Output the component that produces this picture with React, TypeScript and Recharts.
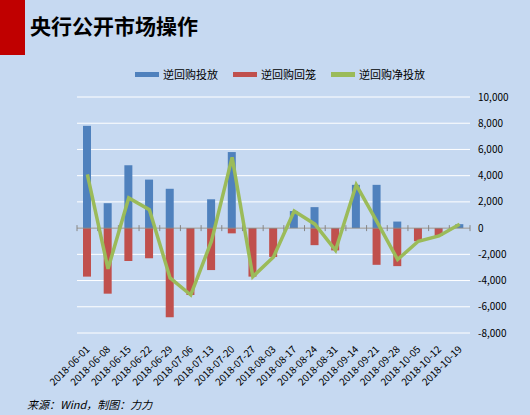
import React from 'react';
import {
  ComposedChart,
  Bar,
  Line,
  XAxis,
  YAxis,
  CartesianGrid,
  ReferenceLine,
} from 'recharts';

const dates = [
  '2018-06-01', '2018-06-08', '2018-06-15', '2018-06-22', '2018-06-29',
  '2018-07-06', '2018-07-13', '2018-07-20', '2018-07-27', '2018-08-03',
  '2018-08-17', '2018-08-24', '2018-08-31', '2018-09-14', '2018-09-21',
  '2018-09-28', '2018-10-05', '2018-10-12', '2018-10-19',
];
const injection = [7800, 1900, 4800, 3700, 3000, 0, 2200, 5800, 0, 0, 1300, 1600, 0, 3300, 3300, 500, 0, 0, 300];
const maturity = [-3700, -5000, -2500, -2300, -6800, -5100, -3200, -400, -3700, -2200, 0, -1300, -1700, 0, -2800, -2900, -1000, -600, 0];
const netInjection = [4100, -3100, 2300, 1400, -3800, -5100, -1000, 5400, -3700, -2200, 1300, 300, -1700, 3300, 500, -2400, -1000, -600, 300];
const yTicks = [-8000, -6000, -4000, -2000, 0, 2000, 4000, 6000, 8000, 10000];

const seriesNames = ['逆回购投放', '逆回购回笼', '逆回购净投放'];
const BLUE = '#4F81BD';
const RED = '#C0504D';
const GREEN = '#9BBB59';
const BG = '#C6D9F1';
const FONT = '"Noto Sans CJK SC", "Noto Sans", sans-serif';

const data = dates.map((date, i) => ({
  date,
  injection: injection[i],
  maturity: maturity[i],
  net: netInjection[i],
}));

const legendItems = [
  { name: seriesNames[0], color: BLUE },
  { name: seriesNames[1], color: RED },
  { name: seriesNames[2], color: GREEN },
];

function DateTick({ x, y, payload }: any) {
  const tx = x + 3;
  const ty = y + 17;
  return (
    <text
      x={tx}
      y={ty}
      transform={`rotate(-45 ${tx} ${ty})`}
      textAnchor="end"
      fontSize={10}
      fill="#000"
      fontFamily={FONT}
    >
      {payload.value}
    </text>
  );
}

// zero line doubles as the category axis, with tick marks between categories
function ZeroAxis({ x1, y1, x2, y2 }: any) {
  const n = dates.length;
  const step = (x2 - x1) / n;
  const marks = [];
  for (let i = 0; i <= n; i++) {
    const x = x1 + i * step;
    marks.push(<line key={i} x1={x} x2={x} y1={y1 - 3} y2={y1 + 3} stroke="#868686" strokeWidth={1} />);
  }
  return (
    <g>
      <line x1={x1} y1={y1} x2={x2} y2={y2} stroke="#868686" strokeWidth={1} />
      {marks}
    </g>
  );
}

export default function App() {
  return (
    <div style={{ position: 'relative', width: 530, height: 415, background: BG, fontFamily: FONT, overflow: 'hidden' }}>
      <style>{'body{margin:0}'}</style>
      <div style={{ position: 'absolute', left: 0, top: 0, width: 25, height: 55, background: '#C00000' }} />
      <div style={{ position: 'absolute', left: 30, top: 10, fontSize: 21, fontWeight: 700, color: '#000', lineHeight: '30px' }}>
        央行公开市场操作
      </div>
      <div style={{ position: 'absolute', left: 135, top: 65, display: 'flex', alignItems: 'center', fontSize: 11, color: '#000' }}>
        {legendItems.map((item, i) => (
          <div key={item.name} style={{ display: 'flex', alignItems: 'center', marginRight: i < 2 ? 15 : 0 }}>
            <div style={{ width: 24, height: 5, background: item.color, marginRight: 4 }} />
            <span style={{ lineHeight: '18px' }}>{item.name}</span>
          </div>
        ))}
      </div>
      <div style={{ position: 'absolute', left: 0, top: 0 }}>
        <ComposedChart
          width={530}
          height={415}
          data={data}
          stackOffset="sign"
          margin={{ top: 97, right: 0, left: 77, bottom: 22 }}
        >
          <CartesianGrid horizontal vertical={false} stroke="#FFFFFF" strokeWidth={1} />
          <XAxis
            dataKey="date"
            axisLine={false}
            tickLine={false}
            tickSize={0}
            tickMargin={0}
            interval={0}
            height={60}
            tick={<DateTick />}
          />
          <YAxis
            orientation="right"
            domain={[-8000, 10000]}
            ticks={yTicks}
            width={60}
            axisLine={false}
            tickLine={false}
            tickFormatter={(v: number) => v.toLocaleString('en-US')}
            tick={{ fontSize: 10, fill: '#000', fontFamily: FONT }}
          />
          <Bar dataKey="injection" name={seriesNames[0]} stackId="a" fill={BLUE} barSize={8} isAnimationActive={false} />
          <Bar dataKey="maturity" name={seriesNames[1]} stackId="a" fill={RED} barSize={8} isAnimationActive={false} />
          <ReferenceLine y={0} shape={<ZeroAxis />} />
          <Line
            dataKey="net"
            name={seriesNames[2]}
            type="linear"
            stroke={GREEN}
            strokeWidth={3.5}
            dot={false}
            isAnimationActive={false}
          />
        </ComposedChart>
      </div>
      <div style={{ position: 'absolute', left: 27, top: 396, fontSize: 11, fontStyle: 'italic', color: '#000' }}>
        来源：Wind，制图：力力
      </div>
    </div>
  );
}
